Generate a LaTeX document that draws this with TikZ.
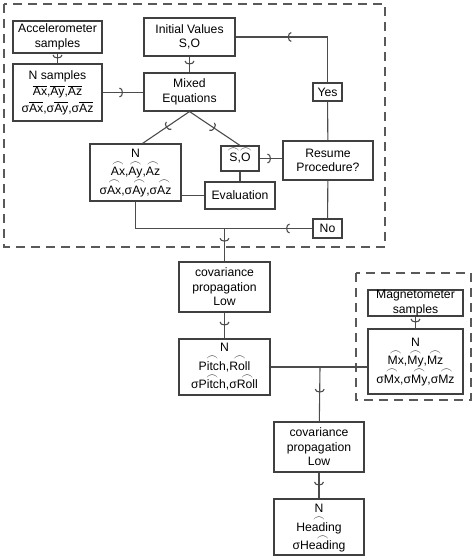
\documentclass[tikz,border=0pt]{standalone}
\usepackage{fontspec}
\setmainfont{Liberation Sans}
\usetikzlibrary{arrows.meta,decorations.markings}
\newcommand{\ovl}[1]{\ensuremath{\overline{\mbox{#1}}}}
\newcommand{\arcacc}[1]{\leavevmode\ooalign{\mbox{#1}\cr
  \hidewidth\smash{\raisebox{9.5pt}{$\frown$}}\hidewidth\cr}}

\begin{document}
\begin{tikzpicture}[x=1pt, y=-1pt,
  box/.style={draw=black!75, line width=1.1pt, align=center, inner sep=0pt,
    font=\fontsize{12.2}{14.5}\selectfont},
  link/.style={draw=black!70, line width=1.1pt},
  midarrow/.style={postaction={decorate}, decoration={markings,
    mark=at position #1 with {\arrow{Arc Barb[length=3.5pt, width=10pt]}}}},
  midarrow/.default=0.5,
  group/.style={draw=black!65, line width=1.1pt, dash pattern=on 9pt off 6pt}]
  \useasboundingbox (0,0) rectangle (474,559);

  % ---- gestrichelte Gruppen ----
  \draw[group] (4,4) rectangle (385,247);
  \draw[group] (356,273) rectangle (471,400);

  % ---- Beschleunigungsmesser-Teil ----
  \node[box, minimum width=89pt, minimum height=32pt] (acc) at (57.5,37)
    {Accelerometer\\samples};
  \node[box, minimum width=89pt, minimum height=57pt] (nsamp) at (57.5,92.5)
    {N samples\\[2pt] \ovl{Ax},\ovl{Ay},\ovl{Az}\\[2pt] σ\ovl{Ax},σ\ovl{Ay},σ\ovl{Az}};
  \node[box, minimum width=91pt, minimum height=38pt] (init) at (189.5,37)
    {Initial Values\\S,O};
  \node[box, minimum width=91pt, minimum height=38pt] (mixed) at (189.5,92)
    {Mixed\\Equations};
  \node[box, minimum width=29pt, minimum height=18pt] (yes) at (327.5,92) {Yes};
  \node[box, minimum width=90pt, minimum height=39pt] (resume) at (328,160.5)
    {Resume\\Procedure?};
  \node[box, minimum width=38pt, minimum height=25pt] (so) at (240,158.5)
    {\raisebox{-2pt}{\arcacc{S},\arcacc{O}}};
  \node[box, minimum width=91pt, minimum height=57pt] (nest) at (135.5,172.5)
    {N\\[4pt] \arcacc{Ax},\arcacc{Ay},\arcacc{Az}\\[4pt] σ\arcacc{Ax},σ\arcacc{Ay},σ\arcacc{Az}};
  \node[box, minimum width=70pt, minimum height=27pt] (eval) at (240,195.5) {Evaluation};
  \node[box, minimum width=29pt, minimum height=19pt] (no) at (327.5,228.5) {No};

  % ---- Fortpflanzung und Magnetometer ----
  \node[box, minimum width=91pt, minimum height=50pt] (cov1) at (224.5,287)
    {covariance\\propagation\\Low};
  \node[box, minimum width=91pt, minimum height=56pt] (pitch) at (224.5,367)
    {N\\[4pt] \arcacc{Pitch},\arcacc{Roll}\\[4pt] σ\arcacc{Pitch},σ\arcacc{Roll}};
  \node[box, minimum width=95pt, minimum height=26pt] (magsamp) at (415.5,303)
    {Magnetometer\\samples};
  \node[box, minimum width=95pt, minimum height=65pt] (mest) at (415.5,361.5)
    {N\\[4pt] \arcacc{Mx},\arcacc{My},\arcacc{Mz}\\[4pt] σ\arcacc{Mx},σ\arcacc{My},σ\arcacc{Mz}};
  \node[box, minimum width=90pt, minimum height=50pt] (cov2) at (319,447)
    {covariance\\propagation\\Low};
  \node[box, minimum width=90pt, minimum height=56pt] (head) at (319,527)
    {N\\[4pt] \arcacc{Heading}\\[4pt] σ\arcacc{Heading}};

  \coordinate (jA) at (224.5,228.5);
  \coordinate (jB) at (320,367);

  % ---- Verbindungen ----
  \draw[link, midarrow] (acc) -- (nsamp);
  \draw[link, midarrow] (nsamp.east) -- (nsamp.east -| mixed.west);
  \draw[link, midarrow] (init) -- (mixed);
  \draw[link, midarrow=0.62] (yes.north) |- (init.east);
  \draw[link] (resume) -- (yes);
  \draw[link, midarrow] (mixed.south) -- ([xshift=7pt]nest.north);
  \draw[link, midarrow] (mixed.south) -- (so.north);
  \draw[link, midarrow] (so.east) -- (so.east -| resume.west);
  \draw[link] (so) -- (eval);
  \draw[link] (eval.west -| nest.east) -- (eval.west);
  \draw[link] (resume) -- (no);
  \draw[link] (nest.south) |- (jA);
  \draw[link, midarrow=0.3] (no.west) -- (jA);
  \draw[link, midarrow=0.4] (jA) -- (cov1);
  \draw[link, midarrow] (cov1) -- (pitch);
  \draw[link] (pitch.east) -- (pitch.east -| mest.west);
  \draw[link, midarrow] (magsamp) -- (mest);
  \draw[link, midarrow=0.47] (jB) -- (cov2);
  \draw[link, midarrow] (cov2) -- (head);
\end{tikzpicture}
\end{document}
